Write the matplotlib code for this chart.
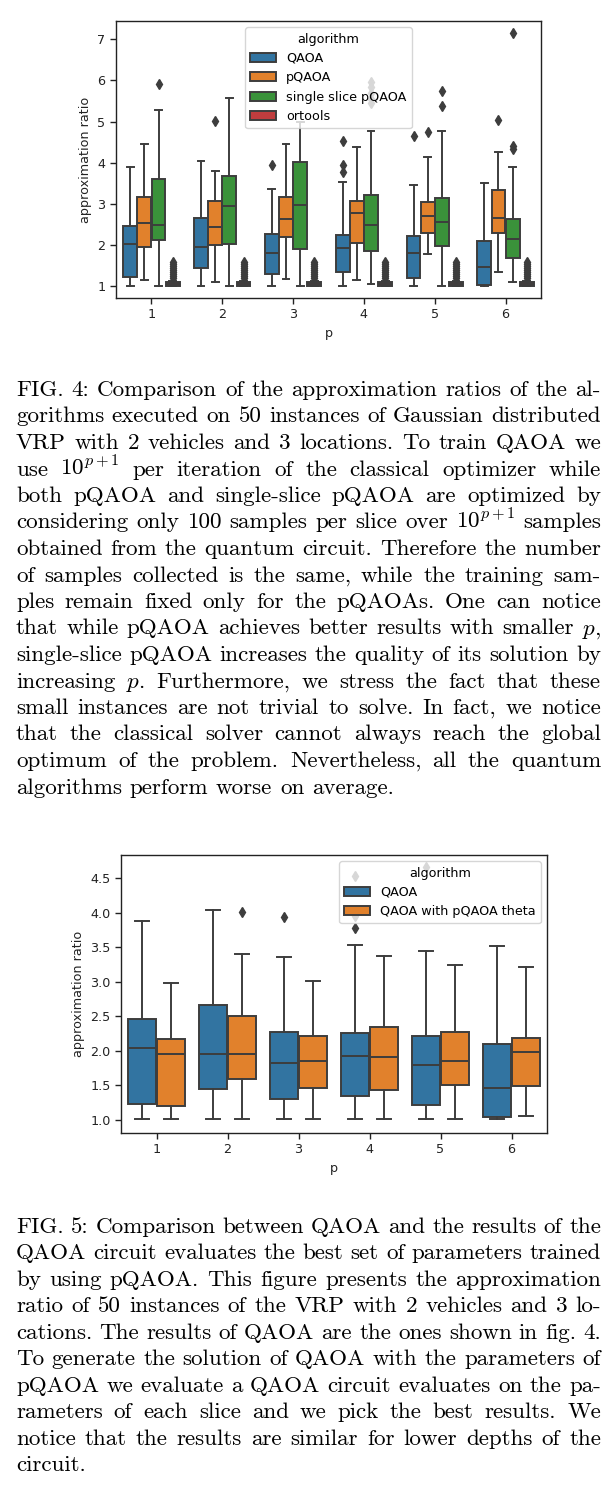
import matplotlib.pyplot as plt
from matplotlib.patches import Patch

# --- data ---
p_values = [1, 2, 3, 4, 5, 6]

# (whisker low, q1, median, q3, whisker high) for p = 1..6
qaoa_box = [(1.01, 1.23, 2.04, 2.46, 3.89), (1.02, 1.45, 1.95, 2.66, 4.04),
            (1.01, 1.30, 1.82, 2.28, 3.36), (1.01, 1.35, 1.93, 2.26, 3.53),
            (1.01, 1.21, 1.80, 2.22, 3.45), (1.01, 1.04, 1.46, 2.10, 3.52)]
qaoa_fliers = [[], [], [3.94], [3.78, 3.95, 4.53], [4.66], []]

pqaoa_box = [(1.15, 1.95, 2.53, 3.18, 4.45), (1.12, 2.01, 2.45, 3.08, 3.81),
             (1.19, 2.20, 2.63, 3.18, 4.45), (1.15, 2.05, 2.78, 3.08, 4.39),
             (1.79, 2.29, 2.72, 3.05, 4.15), (1.36, 2.29, 2.67, 3.34, 4.27)]
pqaoa_fliers = [[], [5.01], [], [], [4.75], [5.03]]

slice_box = [(1.02, 2.13, 2.50, 3.61, 5.29), (1.02, 2.04, 2.94, 3.68, 5.58),
             (1.02, 1.91, 2.98, 4.01, 5.00), (1.05, 1.86, 2.50, 3.21, 4.76),
             (1.02, 1.98, 2.56, 3.14, 4.76), (1.12, 1.69, 2.15, 2.63, 3.91)]
slice_fliers = [[5.92], [], [], [5.45, 5.55, 5.7, 5.85, 5.95], [5.38, 5.74],
                [4.34, 4.40, 7.14]]

ortools_box = [(1.0, 1.0, 1.06, 1.11, 1.13)] * 6
ortools_fliers = [[1.2, 1.25, 1.3, 1.35, 1.4, 1.45, 1.5, 1.55, 1.6]] * 6

theta_box = [(1.01, 1.20, 1.95, 2.17, 2.98), (1.02, 1.59, 1.95, 2.51, 3.40),
             (1.01, 1.46, 1.86, 2.21, 3.02), (1.01, 1.43, 1.91, 2.35, 3.37),
             (1.02, 1.50, 1.86, 2.27, 3.25), (1.05, 1.49, 1.99, 2.18, 3.22)]
theta_fliers = [[], [4.02], [], [], [], []]

caption4 = [
    "FIG. 4: Comparison of the approximation ratios of the al-",
    "gorithms executed on 50 instances of Gaussian distributed",
    "VRP with 2 vehicles and 3 locations. To train QAOA we",
    "use $10^{p+1}$ per iteration of the classical optimizer while",
    "both pQAOA and single-slice pQAOA are optimized by",
    "considering only 100 samples per slice over $10^{p+1}$ samples",
    "obtained from the quantum circuit. Therefore the number",
    "of samples collected is the same, while the training sam-",
    "ples remain fixed only for the pQAOAs. One can notice",
    "that while pQAOA achieves better results with smaller $p$,",
    "single-slice pQAOA increases the quality of its solution by",
    "increasing $p$. Furthermore, we stress the fact that these",
    "small instances are not trivial to solve. In fact, we notice",
    "that the classical solver cannot always reach the global",
    "optimum of the problem. Nevertheless, all the quantum",
    "algorithms perform worse on average.",
]
caption5 = [
    "FIG. 5: Comparison between QAOA and the results of the",
    "QAOA circuit evaluates the best set of parameters trained",
    "by using pQAOA. This figure presents the approximation",
    "ratio of 50 instances of the VRP with 2 vehicles and 3 lo-",
    "cations. The results of QAOA are the ones shown in fig. 4.",
    "To generate the solution of QAOA with the parameters of",
    "pQAOA we evaluate a QAOA circuit evaluates on the pa-",
    "rameters of each slice and we pick the best results. We",
    "notice that the results are similar for lower depths of the",
    "circuit.",
]

# seaborn-like (desaturated) colours
C_BLUE, C_ORANGE, C_GREEN, C_RED = '#3274a1', '#e1812c', '#3a923a', '#c03d3e'
GRAY = '#3d3d3d'

W, H = 616, 1490
plt.rcParams['mathtext.fontset'] = 'cm'
plt.rcParams['font.family'] = 'DejaVu Sans'
fig = plt.figure(figsize=(W / 100, H / 100), dpi=100)

LW = 1.4
FS = 9.2


def draw_boxes(ax, series, fliers, colors):
    n = len(series)
    width = 0.8 / n
    for i, (boxes, fl, col) in enumerate(zip(series, fliers, colors)):
        stats = []
        for j, b in enumerate(boxes):
            stats.append(dict(whislo=b[0], q1=b[1], med=b[2], q3=b[3],
                              whishi=b[4], fliers=fl[j]))
        pos = [j - 0.4 + width * (i + 0.5) for j in range(len(boxes))]
        ax.bxp(stats, positions=pos, widths=width * 0.98, patch_artist=True,
               manage_ticks=False,
               boxprops=dict(facecolor=col, edgecolor=GRAY, linewidth=LW),
               medianprops=dict(color=GRAY, linewidth=LW),
               whiskerprops=dict(color=GRAY, linewidth=LW),
               capprops=dict(color=GRAY, linewidth=LW),
               flierprops=dict(marker='d', markerfacecolor=GRAY,
                               markeredgecolor=GRAY, markersize=4.8))


def style_axes(ax, ylim, yticks):
    ax.set_xlim(-0.5, len(p_values) - 0.5)
    ax.set_ylim(*ylim)
    ax.set_xticks(range(len(p_values)))
    ax.set_xticklabels([str(p) for p in p_values], fontsize=FS)
    ax.set_yticks(yticks)
    ax.tick_params(labelsize=FS, length=4, width=1.0, colors='#222222')
    ax.set_xlabel('p', fontsize=FS, color='#222222')
    ax.set_ylabel('approximation ratio', fontsize=FS, color='#222222')
    for s in ax.spines.values():
        s.set_linewidth(1.0)
        s.set_color('#222222')


# --- top chart (fig. 4) ---
ax1 = fig.add_axes([116 / W, 1 - 298 / H, 425 / W, 277 / H])
draw_boxes(ax1, [qaoa_box, pqaoa_box, slice_box, ortools_box],
           [qaoa_fliers, pqaoa_fliers, slice_fliers, ortools_fliers],
           [C_BLUE, C_ORANGE, C_GREEN, C_RED])
style_axes(ax1, (0.72, 7.44), [1, 2, 3, 4, 5, 6, 7])
h1 = [Patch(facecolor=c, edgecolor=GRAY, linewidth=LW, label=l)
      for c, l in zip([C_BLUE, C_ORANGE, C_GREEN, C_RED],
                      ['QAOA', 'pQAOA', 'single slice pQAOA', 'ortools'])]
ax1.legend(handles=h1, title='algorithm', loc='upper center', fontsize=FS,
           title_fontsize=FS)

# --- bottom chart (fig. 5) ---
ax2 = fig.add_axes([121 / W, 1 - 1133 / H, 426 / W, 278 / H])
draw_boxes(ax2, [qaoa_box, theta_box], [qaoa_fliers, theta_fliers],
           [C_BLUE, C_ORANGE])
style_axes(ax2, (0.81, 4.84), [1.0, 1.5, 2.0, 2.5, 3.0, 3.5, 4.0, 4.5])
h2 = [Patch(facecolor=c, edgecolor=GRAY, linewidth=LW, label=l)
      for c, l in zip([C_BLUE, C_ORANGE], ['QAOA', 'QAOA with pQAOA theta'])]
ax2.legend(handles=h2, title='algorithm', loc='upper right', fontsize=FS,
           title_fontsize=FS)

# --- captions, justified word by word ---
CAP_FS = 16.6
X0, X1 = 16, 601
renderer = fig.canvas.get_renderer()
space = 0.333 * CAP_FS * 100 / 72


def put_caption(lines, first_base, step):
    for k, line in enumerate(lines):
        y = 1 - (first_base + k * step) / H
        words = line.split(' ')
        texts = [fig.text(0, y, w, fontsize=CAP_FS, family='cmr10',
                          ha='left', va='baseline') for w in words]
        widths = [t.get_window_extent(renderer).width for t in texts]
        if k == len(lines) - 1 or len(words) == 1:
            gap = space
        else:
            gap = max((X1 - X0 - sum(widths)) / (len(words) - 1), 2)
        x = X0
        for t, w in zip(texts, widths):
            t.set_x(x / W)
            x += w + gap


put_caption(caption4, 396, 26.5)
put_caption(caption5, 1233, 26.45)

fig.savefig('out.png', dpi=100)
